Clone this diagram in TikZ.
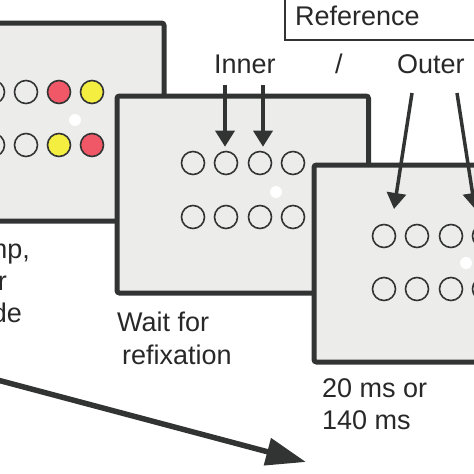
\documentclass[tikz,border=0pt]{standalone}
\usepackage{fontspec}
\setmainfont{Liberation Sans}
\usetikzlibrary{arrows.meta}
\definecolor{scr}{RGB}{236,237,235}
\definecolor{bord}{RGB}{50,52,52}
\definecolor{txt}{RGB}{40,40,40}
\definecolor{tred}{RGB}{240,88,104}
\definecolor{tyel}{RGB}{244,238,64}
\begin{document}
\begin{tikzpicture}[x=1pt,y=-1pt,
  screen/.style={rectangle,draw=bord,fill=scr,line width=5pt,rounded corners=2.5pt,inner sep=0pt},
  ring/.style={circle,draw=bord,line width=1.6pt,minimum size=23pt,inner sep=0pt,fill=scr},
  fixdot/.style={circle,fill=white,minimum size=12pt,inner sep=0pt},
  lbl/.style={text=txt,font=\fontsize{27}{33}\selectfont,inner sep=0pt},
  ptr/.style={draw=bord,line width=3.5pt,-{Triangle[length=16pt,width=19pt]}},
  bigptr/.style={draw=bord,line width=5.5pt,-{Triangle[length=40pt,width=27pt]}},
  refbox/.style={draw=bord,line width=1.5pt}
]
\useasboundingbox (0,0) rectangle (474,474);
\clip (0,0) rectangle (474,474);

% Reference box
\draw[refbox] (285,-10) rectangle (520,40);
\node[lbl,anchor=base west] (ref) at (295,25) {Reference};

% screen 1
\node[screen,minimum width=184pt,minimum height=198pt] (s1) at (72,122) {};
\node[ring] (c1a) at (-7,92) {};
\node[ring] (c1b) at (26,92) {};
\node[ring,fill=tred] (c1c) at (59,92) {};
\node[ring,fill=tyel] (c1d) at (92,92) {};
\node[ring] (c1e) at (-7,145) {};
\node[ring] (c1f) at (26,145) {};
\node[ring,fill=tyel] (c1g) at (59,145) {};
\node[ring,fill=tred] (c1h) at (92,145) {};
\node[fixdot] (f1) at (75,120) {};

% screen 2
\node[screen,minimum width=251.5pt,minimum height=197pt] (s2) at (242.75,194.5) {};
\node[ring] (c2a) at (193,163) {};
\node[ring] (c2b) at (226,163) {};
\node[ring] (c2c) at (260,163) {};
\node[ring] (c2d) at (293,163) {};
\node[ring] (c2e) at (193,217) {};
\node[ring] (c2f) at (226,217) {};
\node[ring] (c2g) at (260,217) {};
\node[ring] (c2h) at (293,217) {};
\node[fixdot] (f2) at (276,192) {};

% screen 3
\node[screen,minimum width=206pt,minimum height=197pt] (s3) at (417,263.5) {};
\node[ring] (c3a) at (384,236) {};
\node[ring] (c3b) at (417,236) {};
\node[ring] (c3c) at (451,236) {};
\node[ring] (c3d) at (484,236) {};
\node[ring] (c3e) at (384,289) {};
\node[ring] (c3f) at (417,289) {};
\node[ring] (c3g) at (451,289) {};
\node[ring] (c3h) at (484,289) {};
\node[fixdot] (f3) at (466,263) {};

% labels
\node[lbl,anchor=base west] (inner) at (214,73) {Inner};
\node[lbl,anchor=base west] (slash) at (335,73) {/};
\node[lbl,anchor=base west] (outer) at (397,73) {Outer};

\node[lbl,anchor=base east] (l1) at (30,258) {mp,};
\node[lbl,anchor=base east] (l2) at (7,290) {r};
\node[lbl,anchor=base east] (l3) at (22,322) {de};

\node[lbl,anchor=base west] (w1) at (117,331) {Wait for};
\node[lbl,anchor=base west] (w2) at (122,364) {refixation};

\node[lbl,anchor=base west] (t1) at (322,397) {20 ms or};
\node[lbl,anchor=base west] (t2) at (322,429) {140 ms};

% inner arrows
\coordinate (ia) at (225,85);
\coordinate (ib) at (263,85);
\draw[ptr] (ia) -- ([yshift=4pt]c2b.north -| ia);
\draw[ptr] (ib) -- ([yshift=4pt]c2c.north -| ib);

% outer arrows
\coordinate (oa) at (412,93);
\coordinate (oat) at (394,209);
\coordinate (ob) at (457,93);
\coordinate (obt) at (475,209);
\draw[ptr] (oa) -- (oat);
\draw[ptr] (ob) -- (obt);

% time arrow
\coordinate (bs) at (-10,378);
\coordinate (bt) at (306,462);
\draw[bigptr] (bs) -- (bt);
\end{tikzpicture}
\end{document}
